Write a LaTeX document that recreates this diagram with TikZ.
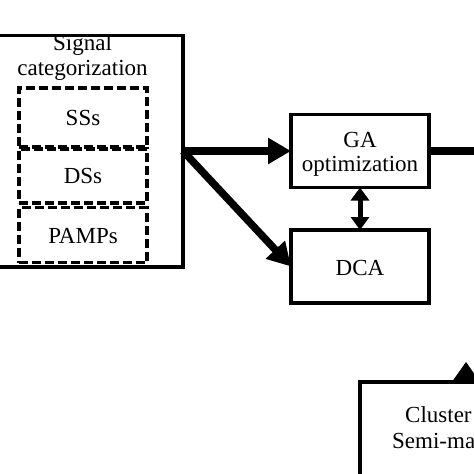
\documentclass[tikz,border=0pt]{standalone}
\usepackage{fontspec}
\setmainfont{Liberation Serif}
\usetikzlibrary{arrows.meta}
\begin{document}
\begin{tikzpicture}[x=1pt,y=-1pt,
  box/.style={draw,line width=3.2pt,rectangle,inner sep=0pt,outer sep=0pt},
  dbox/.style={draw,line width=3.2pt,rectangle,inner sep=0pt,outer sep=0pt,dash pattern=on 9pt off 4pt},
  lbl/.style={font=\fontsize{23}{25}\selectfont,anchor=base,inner sep=0pt},
  bigarrow/.style={line width=7.5pt,-{Triangle[length=23pt,width=25pt]}},
  duoarrow/.style={line width=5pt,{Triangle[length=13pt,width=18pt]}-{Triangle[length=13pt,width=18pt]}},
]
\useasboundingbox (0,0) rectangle (474,474);
\clip (0,0) rectangle (474,474);
% outer signal box
\node[box,minimum width=203pt,minimum height=232pt] (sig) at (81.5,151) {};
\node[lbl] (sigt1) at (82.5,50) {Signal};
\node[lbl] (sigt2) at (82.5,75) {categorization};
\fill[white] (-5,-5) rectangle (474,33.5);
% dashed boxes
\node[dbox,minimum width=128pt,minimum height=59pt] (ss) at (83,117.5) {};
\node[dbox,minimum width=128pt,minimum height=54pt] (ds) at (83,176) {};
\node[dbox,minimum width=128pt,minimum height=55pt] (pa) at (83,235) {};
\node[lbl] (sst) at (83,125) {SSs};
\node[lbl] (dst) at (83,183) {DSs};
\node[lbl] (pat) at (83,243) {PAMPs};
% GA and DCA
\node[box,minimum width=138pt,minimum height=73pt] (ga) at (360,151) {};
\node[lbl] (gat1) at (360,147) {GA};
\node[lbl] (gat2) at (360,171) {optimization};
\node[box,minimum width=138pt,minimum height=73pt] (dca) at (360,266.5) {};
\node[lbl] (dcat) at (360,275) {DCA};
% connectors
\draw[bigarrow] (sig.east) -- (ga.west);
\draw[bigarrow] (sig.east) -- (dca.west);
\draw[duoarrow] (ga.south) -- (dca.north);
\coordinate (gaout) at (490,151);
\draw[line width=7.5pt] (ga.east) -- (gaout);
% cluster box
\node[box,anchor=north west,minimum width=200pt,minimum height=120pt] (cl) at (360,382) {};
\node[lbl,anchor=base west] (clt1) at (405,422) {Cluster};
\node[lbl,anchor=base west] (clt2) at (392,448) {Semi-ma};
\coordinate (cltip) at (466,362);
\draw[line width=1pt,-{Triangle[length=20pt,width=28pt]}] (cltip |- cl.north) -- (cltip);
\end{tikzpicture}
\end{document}
